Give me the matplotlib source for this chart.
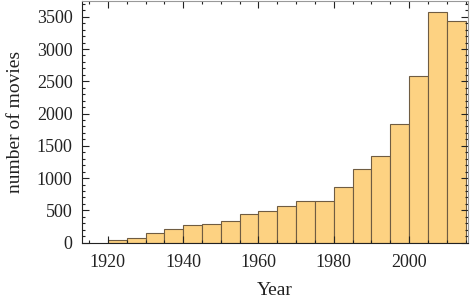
import matplotlib

matplotlib.use("Agg")
import matplotlib.pyplot as plt
import numpy as np
from matplotlib.ticker import MultipleLocator

# 5-year bins starting at 1920
bin_edges = [1920, 1925, 1930, 1935, 1940, 1945, 1950, 1955, 1960, 1965,
             1970, 1975, 1980, 1985, 1990, 1995, 2000, 2005, 2010, 2015]
counts = [38, 78, 150, 217, 279, 294, 330, 444, 496, 563,
          651, 640, 868, 1141, 1343, 1845, 2574, 3566, 3431]

plt.rcParams["font.family"] = ["Liberation Serif", "DejaVu Serif"]

fig = plt.figure(figsize=(4.74, 3.01), dpi=100)
ax = fig.add_axes([0.172, 0.194, 0.815, 0.804])

edges = np.asarray(bin_edges, dtype=float)
ax.bar(edges[:-1], counts, width=np.diff(edges), align="edge",
       color="#fdd282", edgecolor="#6f5c42", linewidth=0.8)

ax.set_xlim(1913, 2015.6)
ax.set_ylim(0, 3750)
ax.xaxis.set_major_locator(MultipleLocator(20))
ax.xaxis.set_minor_locator(MultipleLocator(5))
ax.yaxis.set_major_locator(MultipleLocator(500))
ax.yaxis.set_minor_locator(MultipleLocator(100))

ax.tick_params(which="both", direction="in", top=True, right=True,
               labelsize=13, colors="#222222", width=0.8)
ax.tick_params(which="major", length=5)
ax.tick_params(which="minor", length=2.5)
ax.tick_params(axis="x", pad=8)
ax.tick_params(axis="y", pad=6.5)
for side in ("top", "right"):
    ax.spines[side].set_color("#999999")
for side in ("left", "bottom"):
    ax.spines[side].set_color("#222222")

ax.set_xlabel("Year", fontsize=14, color="#222222", labelpad=8)
ax.set_ylabel("number of movies", fontsize=14, color="#222222", labelpad=9)

fig.savefig("out.png", dpi=100)
